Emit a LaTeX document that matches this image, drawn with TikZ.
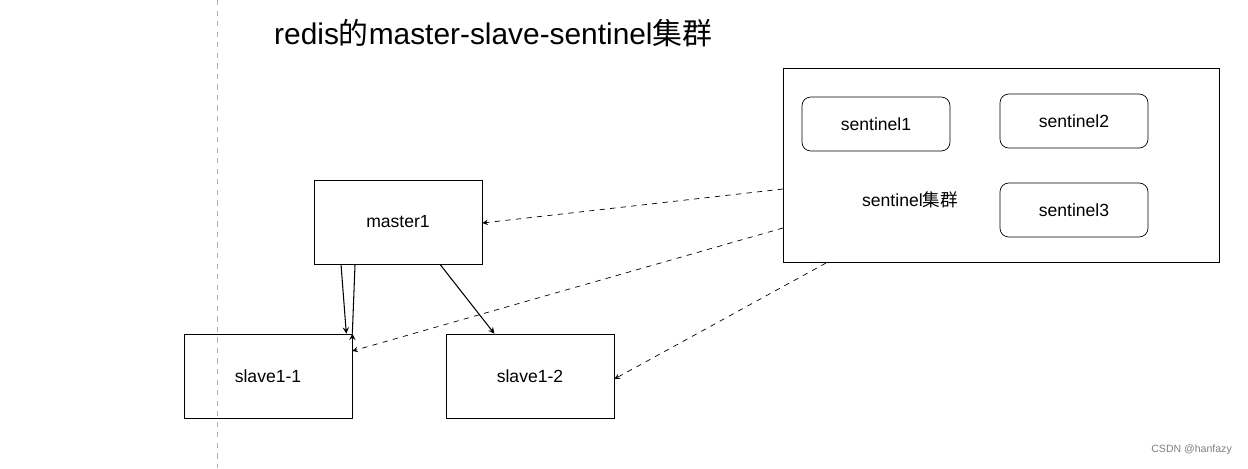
\documentclass[tikz,border=0pt]{standalone}
\usepackage{fontspec}
\setmainfont{Liberation Sans}
\newfontfamily\cjk{Noto Sans CJK SC}
\usetikzlibrary{positioning}

\begin{document}
\begin{tikzpicture}[x=0.02cm,y=-0.02cm,
    box/.style={draw, minimum width=3.36cm, minimum height=1.68cm, font=\fontsize{10}{12}\selectfont},
    sbox/.style={draw, rounded corners=5pt, minimum width=2.96cm, minimum height=1.08cm, font=\fontsize{10}{12}\selectfont},
    link/.style={-stealth, semithick},
    watch/.style={-stealth, dashed}]
    \useasboundingbox (0,0) rectangle (1248,468);
    \draw[dashed, gray!60] (217,0) -- (217,468);

    %title
    \node[anchor=west, font=\fontsize{17}{20}\selectfont] (title) at (268,33) {redis{\cjk 的}master-slave-sentinel{\cjk 集群}};

    %redis nodes
    \node[box] (master1) at (398,222) {master1};
    \node[box] (slave11) at (268,376) {slave1-1};
    \node[box] (slave12) at (530,376) {slave1-2};

    %sentinel cluster
    \node[draw, minimum width=8.72cm, minimum height=3.88cm] (cluster) at (1001,165) {};
    \node[sbox] (sentinel1) at (876,124) {sentinel1};
    \node[sbox] (sentinel2) at (1074,121) {sentinel2};
    \node[sbox] (sentinel3) at (1074,210) {sentinel3};
    \node[font=\fontsize{10}{12}\selectfont] (clusterlabel) at (910,200) {sentinel{\cjk 集群}};

    \coordinate (w1) at (783,189);
    \coordinate (w2) at (783,228);
    \coordinate (w3) at (826,263);

    \draw[link] (355,265) -- (slave11.north east) ++(0,0);
    \draw[link] ([xshift=-1.14cm]master1.south) -- ([xshift=-0.12cm]slave11.north east);
    \draw[link] ([xshift=0.84cm]master1.south) -- ([xshift=-2.4cm]slave12.north east);
    \draw[watch] (w1) -- ([yshift=-0.02cm]master1.east);
    \draw[watch] (w2) -- ([yshift=0.5cm]slave11.east);
    \draw[watch] (w3) -- ([yshift=-0.06cm]slave12.east);

    \node[anchor=east, gray, font=\fontsize{6}{7}\selectfont] (mark) at (1238,450) {CSDN @hanfazy};
\end{tikzpicture}
\end{document}
